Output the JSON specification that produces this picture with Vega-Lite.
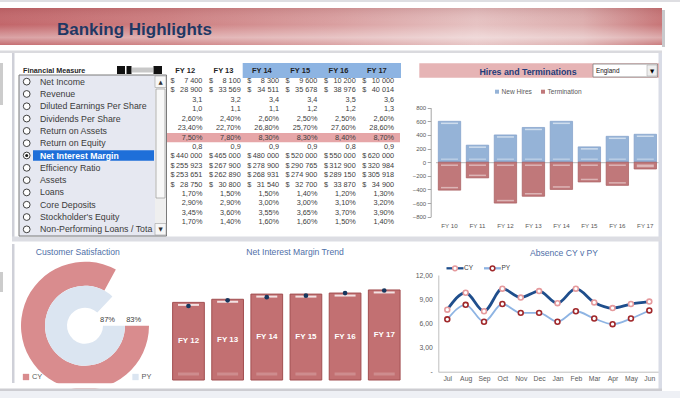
{
"$schema": "https://vega.github.io/schema/vega-lite/v6.json",
"width": 680, "height": 398,
"autosize": {"type": "none"},
"padding": 0,
"background": "#ffffff",
"config": {"view": {"stroke": null}, "font": "Liberation Sans", "axis": {"labelFont": "Liberation Sans"}},
"datasets": {
"measures": [
{"m":"Net Income","sel":false},{"m":"Revenue","sel":false},{"m":"Diluted Earnings Per Share","sel":false},{"m":"Dividends Per Share","sel":false},{"m":"Return on Assets","sel":false},{"m":"Return on Equity","sel":false},{"m":"Net Interest Margin","sel":true},{"m":"Efficiency Ratio","sel":false},{"m":"Assets","sel":false},{"m":"Loans","sel":false},{"m":"Core Deposits","sel":false},{"m":"Stockholder's Equity","sel":false},{"m":"Non-Performing Loans / Total Loans","sel":false}
],
"table": [
{"r":1,"cur":"$","FY 12":"7 400","FY 13":"8 100","FY 14":"8 300","FY 15":"9 600","FY 16":"10 200","FY 17":"10 000"},
{"r":2,"cur":"$","FY 12":"28 900","FY 13":"33 569","FY 14":"34 511","FY 15":"35 678","FY 16":"38 976","FY 17":"40 014"},
{"r":3,"cur":"","FY 12":"3,1","FY 13":"3,2","FY 14":"3,4","FY 15":"3,4","FY 16":"3,5","FY 17":"3,6"},
{"r":4,"cur":"","FY 12":"1,0","FY 13":"1,1","FY 14":"1,1","FY 15":"1,2","FY 16":"1,2","FY 17":"1,3"},
{"r":5,"cur":"","FY 12":"2,60%","FY 13":"2,40%","FY 14":"2,60%","FY 15":"2,50%","FY 16":"2,50%","FY 17":"2,60%"},
{"r":6,"cur":"","FY 12":"23,40%","FY 13":"22,70%","FY 14":"26,80%","FY 15":"25,70%","FY 16":"27,60%","FY 17":"28,60%"},
{"r":7,"cur":"","FY 12":"7,50%","FY 13":"7,80%","FY 14":"8,30%","FY 15":"8,30%","FY 16":"8,40%","FY 17":"8,70%"},
{"r":8,"cur":"","FY 12":"0,8","FY 13":"0,9","FY 14":"0,9","FY 15":"0,9","FY 16":"0,8","FY 17":"0,9"},
{"r":9,"cur":"$","FY 12":"440 000","FY 13":"465 000","FY 14":"480 000","FY 15":"520 000","FY 16":"550 000","FY 17":"620 000"},
{"r":10,"cur":"$","FY 12":"255 923","FY 13":"267 900","FY 14":"278 900","FY 15":"290 765","FY 16":"312 900","FY 17":"320 984"},
{"r":11,"cur":"$","FY 12":"253 651","FY 13":"262 890","FY 14":"268 931","FY 15":"274 900","FY 16":"289 150","FY 17":"305 918"},
{"r":12,"cur":"$","FY 12":"28 750","FY 13":"30 800","FY 14":"31 540","FY 15":"32 700","FY 16":"33 870","FY 17":"34 900"},
{"r":13,"cur":"","FY 12":"1,70%","FY 13":"1,50%","FY 14":"1,50%","FY 15":"1,40%","FY 16":"1,20%","FY 17":"1,30%"},
{"r":14,"cur":"","FY 12":"2,90%","FY 13":"2,90%","FY 14":"3,00%","FY 15":"3,00%","FY 16":"3,10%","FY 17":"3,20%"},
{"r":15,"cur":"","FY 12":"3,45%","FY 13":"3,60%","FY 14":"3,55%","FY 15":"3,65%","FY 16":"3,70%","FY 17":"3,90%"},
{"r":16,"cur":"","FY 12":"1,70%","FY 13":"1,40%","FY 14":"1,60%","FY 15":"1,60%","FY 16":"1,50%","FY 17":"1,40%"}
],
"years": [{"fy":"FY 12"},{"fy":"FY 13"},{"fy":"FY 14"},{"fy":"FY 15"},{"fy":"FY 16"},{"fy":"FY 17"}],
"hires": [
{"fy":"FY 10","t":"New Hires","v":600},{"fy":"FY 11","t":"New Hires","v":250},{"fy":"FY 12","t":"New Hires","v":400},{"fy":"FY 13","t":"New Hires","v":510},{"fy":"FY 14","t":"New Hires","v":600},{"fy":"FY 15","t":"New Hires","v":225},{"fy":"FY 16","t":"New Hires","v":380},{"fy":"FY 17","t":"New Hires","v":410},
{"fy":"FY 10","t":"Termination","v":-410},{"fy":"FY 11","t":"Termination","v":-230},{"fy":"FY 12","t":"Termination","v":-600},{"fy":"FY 13","t":"Termination","v":-500},{"fy":"FY 14","t":"Termination","v":-400},{"fy":"FY 15","t":"Termination","v":-290},{"fy":"FY 16","t":"Termination","v":-340},{"fy":"FY 17","t":"Termination","v":-100}
],
"nim": [{"fy":"FY 12","v":7.5,"mk":7.15},{"fy":"FY 13","v":7.8,"mk":7.7},{"fy":"FY 14","v":8.3,"mk":8.0},{"fy":"FY 15","v":8.3,"mk":8.15},{"fy":"FY 16","v":8.4,"mk":8.4},{"fy":"FY 17","v":8.7,"mk":8.65}],
"absence": [{"mo":"Jul","cy":7.7,"py":6.5},{"mo":"Aug","cy":9.8,"py":8.3},{"mo":"Sep","cy":7.5,"py":6.2},{"mo":"Oct","cy":10.3,"py":8.4},{"mo":"Nov","cy":9.2,"py":7.3},{"mo":"Dec","cy":10.0,"py":7.3},{"mo":"Jan","cy":8.5,"py":6.2},{"mo":"Feb","cy":10.3,"py":7.5},{"mo":"Mar","cy":8.6,"py":6.6},{"mo":"Apr","cy":7.9,"py":5.9},{"mo":"May","cy":8.4,"py":6.6},{"mo":"Jun","cy":8.7,"py":7.6}],
"sat": [{"ring":"CY","v":83,"label":"83%"},{"ring":"PY","v":87,"label":"87%"}]
},
"layer": [
{"data":{"values":[{}]},"mark":{"type":"rect","fill":"#dedee2"},"encoding":{"x":{"datum":0,"type":"quantitative","scale":{"domain":[0,1],"range":[0,680]},"axis":null},"x2":{"datum":1},"y":{"datum":0,"type":"quantitative","scale":{"domain":[0,1],"range":[0,2]},"axis":null},"y2":{"datum":1}}},
{"data":{"values":[{}]},"mark":{"type":"rect","fill":{"gradient":"linear","x1":0,"y1":0,"x2":1,"y2":0,"stops":[{"offset":0,"color":"#c2666a"},{"offset":0.25,"color":"#cd7e80"},{"offset":0.5,"color":"#d99e9f"},{"offset":0.72,"color":"#e6c2c2"},{"offset":0.88,"color":"#ddaeae"},{"offset":1,"color":"#c77577"}]}},"encoding":{"x":{"datum":0,"type":"quantitative","scale":{"domain":[0,1],"range":[0,662]},"axis":null},"x2":{"datum":1},"y":{"datum":0,"type":"quantitative","scale":{"domain":[0,1],"range":[8,45]},"axis":null},"y2":{"datum":1}}},
{"data":{"values":[{}]},"mark":{"type":"rect","fill":{"gradient":"linear","x1":0,"y1":0,"x2":0,"y2":1,"stops":[{"offset":0,"color":"rgba(120,40,45,0.15)"},{"offset":0.45,"color":"rgba(255,255,255,0)"},{"offset":0.8,"color":"rgba(255,255,255,0.4)"},{"offset":1,"color":"rgba(255,255,255,0.05)"}]}},"encoding":{"x":{"datum":0,"type":"quantitative","scale":{"domain":[0,1],"range":[0,662]},"axis":null},"x2":{"datum":1},"y":{"datum":0,"type":"quantitative","scale":{"domain":[0,1],"range":[8,45]},"axis":null},"y2":{"datum":1}}},
{"data":{"values":[{}]},"mark":{"type":"rect","fill":"#c9c9cc"},"encoding":{"x":{"datum":0,"type":"quantitative","scale":{"domain":[0,1],"range":[662,665]},"axis":null},"x2":{"datum":1},"y":{"datum":0,"type":"quantitative","scale":{"domain":[0,1],"range":[10,47]},"axis":null},"y2":{"datum":1}}},
{"data":{"values":[{"t":"Banking Highlights"}]},"mark":{"type":"text","align":"left","baseline":"middle","fontSize":17,"fontWeight":"bold","color":"#1f3864"},"encoding":{"x":{"datum":0,"type":"quantitative","scale":{"domain":[0,1],"range":[57,58]},"axis":null},"y":{"datum":0,"type":"quantitative","scale":{"domain":[0,1],"range":[30,31]},"axis":null},"text":{"field":"t"}}},
{"data":{"values":[{}]},"mark":{"type":"rect","fill":"#dadade"},"encoding":{"x":{"datum":0,"type":"quantitative","scale":{"domain":[0,1],"range":[0,662]},"axis":null},"x2":{"datum":1},"y":{"datum":0,"type":"quantitative","scale":{"domain":[0,1],"range":[50.5,53]},"axis":null},"y2":{"datum":1}}},
{"data":{"values":[{}]},"mark":{"type":"rect","fill":"#cfd0d8"},"encoding":{"x":{"datum":0,"type":"quantitative","scale":{"domain":[0,1],"range":[12,14.5]},"axis":null},"x2":{"datum":1},"y":{"datum":0,"type":"quantitative","scale":{"domain":[0,1],"range":[53,238]},"axis":null},"y2":{"datum":1}}},
{"data":{"values":[{}]},"mark":{"type":"rect","fill":"#d9dce6"},"encoding":{"x":{"datum":0,"type":"quantitative","scale":{"domain":[0,1],"range":[658.5,662]},"axis":null},"x2":{"datum":1},"y":{"datum":0,"type":"quantitative","scale":{"domain":[0,1],"range":[53,390]},"axis":null},"y2":{"datum":1}}},
{"data":{"values":[{}]},"mark":{"type":"rect","fill":"#dcdde3"},"encoding":{"x":{"datum":0,"type":"quantitative","scale":{"domain":[0,1],"range":[12,662]},"axis":null},"x2":{"datum":1},"y":{"datum":0,"type":"quantitative","scale":{"domain":[0,1],"range":[236.5,241.5]},"axis":null},"y2":{"datum":1}}},
{"data":{"values":[{}]},"mark":{"type":"rect","fill":"#cfd0d8"},"encoding":{"x":{"datum":0,"type":"quantitative","scale":{"domain":[0,1],"range":[12,14.5]},"axis":null},"x2":{"datum":1},"y":{"datum":0,"type":"quantitative","scale":{"domain":[0,1],"range":[244,383]},"axis":null},"y2":{"datum":1}}},
{"data":{"values":[{}]},"mark":{"type":"rect","fill":"#cccccc"},"encoding":{"x":{"datum":0,"type":"quantitative","scale":{"domain":[0,1],"range":[0,3]},"axis":null},"x2":{"datum":1},"y":{"datum":0,"type":"quantitative","scale":{"domain":[0,1],"range":[63,105]},"axis":null},"y2":{"datum":1}}},
{"data":{"values":[{}]},"mark":{"type":"rect","fill":"#cccccc"},"encoding":{"x":{"datum":0,"type":"quantitative","scale":{"domain":[0,1],"range":[0,3]},"axis":null},"x2":{"datum":1},"y":{"datum":0,"type":"quantitative","scale":{"domain":[0,1],"range":[272,292]},"axis":null},"y2":{"datum":1}}},
{"data":{"values":[{"t":"Financial Measure"}]},"mark":{"type":"text","align":"left","baseline":"middle","fontSize":7.2,"fontWeight":"bold","color":"#1f1f1f"},"encoding":{"x":{"datum":0,"type":"quantitative","scale":{"domain":[0,1],"range":[23,24]},"axis":null},"y":{"datum":0,"type":"quantitative","scale":{"domain":[0,1],"range":[70.7,71.7]},"axis":null},"text":{"field":"t"}}},
{"data":{"values":[{}]},"mark":{"type":"rect","fill":"#111111"},"encoding":{"x":{"datum":0,"type":"quantitative","scale":{"domain":[0,1],"range":[117,125]},"axis":null},"x2":{"datum":1},"y":{"datum":0,"type":"quantitative","scale":{"domain":[0,1],"range":[66,74]},"axis":null},"y2":{"datum":1}}},
{"data":{"values":[{}]},"mark":{"type":"rect","fill":"#111111"},"encoding":{"x":{"datum":0,"type":"quantitative","scale":{"domain":[0,1],"range":[126.5,131.5]},"axis":null},"x2":{"datum":1},"y":{"datum":0,"type":"quantitative","scale":{"domain":[0,1],"range":[66,74]},"axis":null},"y2":{"datum":1}}},
{"data":{"values":[{}]},"mark":{"type":"rect","fill":"#c8c8c8"},"encoding":{"x":{"datum":0,"type":"quantitative","scale":{"domain":[0,1],"range":[132,153]},"axis":null},"x2":{"datum":1},"y":{"datum":0,"type":"quantitative","scale":{"domain":[0,1],"range":[67.5,72.5]},"axis":null},"y2":{"datum":1}}},
{"data":{"values":[{}]},"mark":{"type":"rect","fill":"#111111"},"encoding":{"x":{"datum":0,"type":"quantitative","scale":{"domain":[0,1],"range":[153.5,162]},"axis":null},"x2":{"datum":1},"y":{"datum":0,"type":"quantitative","scale":{"domain":[0,1],"range":[66,74]},"axis":null},"y2":{"datum":1}}},
{"data":{"values":[{}]},"mark":{"type":"rect","fill":"#e6e8f1","stroke":"#7a7a7a","strokeWidth":1},"encoding":{"x":{"datum":0,"type":"quantitative","scale":{"domain":[0,1],"range":[19,166.5]},"axis":null},"x2":{"datum":1},"y":{"datum":0,"type":"quantitative","scale":{"domain":[0,1],"range":[75,236]},"axis":null},"y2":{"datum":1}}},
{"data":{"values":[{}]},"mark":{"type":"rect","fill":"#efefef"},"encoding":{"x":{"datum":0,"type":"quantitative","scale":{"domain":[0,1],"range":[155,166]},"axis":null},"x2":{"datum":1},"y":{"datum":0,"type":"quantitative","scale":{"domain":[0,1],"range":[76,235]},"axis":null},"y2":{"datum":1}}},
{"data":{"values":[{}]},"mark":{"type":"rect","fill":"#f7f7f7","stroke":"#a0a0a0","strokeWidth":0.6},"encoding":{"x":{"datum":0,"type":"quantitative","scale":{"domain":[0,1],"range":[155,166]},"axis":null},"x2":{"datum":1},"y":{"datum":0,"type":"quantitative","scale":{"domain":[0,1],"range":[76,87.5]},"axis":null},"y2":{"datum":1}}},
{"data":{"values":[{}]},"mark":{"type":"rect","fill":"#f7f7f7","stroke":"#a0a0a0","strokeWidth":0.6},"encoding":{"x":{"datum":0,"type":"quantitative","scale":{"domain":[0,1],"range":[155,166]},"axis":null},"x2":{"datum":1},"y":{"datum":0,"type":"quantitative","scale":{"domain":[0,1],"range":[223.5,235]},"axis":null},"y2":{"datum":1}}},
{"data":{"values":[{}]},"mark":{"type":"rect","fill":"#f8f8f8","stroke":"#9a9a9a","strokeWidth":0.7},"encoding":{"x":{"datum":0,"type":"quantitative","scale":{"domain":[0,1],"range":[156,165]},"axis":null},"x2":{"datum":1},"y":{"datum":0,"type":"quantitative","scale":{"domain":[0,1],"range":[89,198]},"axis":null},"y2":{"datum":1}}},
{"data":{"values":[{"t":"▲"}]},"mark":{"type":"text","align":"center","baseline":"middle","fontSize":5.5,"color":"#303030","font":"DejaVu Sans"},"encoding":{"x":{"datum":0,"type":"quantitative","scale":{"domain":[0,1],"range":[160.5,161.5]},"axis":null},"y":{"datum":0,"type":"quantitative","scale":{"domain":[0,1],"range":[81.8,82.8]},"axis":null},"text":{"field":"t"}}},
{"data":{"values":[{"t":"▼"}]},"mark":{"type":"text","align":"center","baseline":"middle","fontSize":5.5,"color":"#303030","font":"DejaVu Sans"},"encoding":{"x":{"datum":0,"type":"quantitative","scale":{"domain":[0,1],"range":[160.5,161.5]},"axis":null},"y":{"datum":0,"type":"quantitative","scale":{"domain":[0,1],"range":[229.3,230.3]},"axis":null},"text":{"field":"t"}}},
{"data":{"name":"measures"},
 "layer":[
  {"transform":[{"filter":"datum.sel"}],"mark":{"type":"rect","fill":"#1e6fd9"},"encoding":{"y":{"field":"m","type":"nominal","scale":{"type":"band","domain":["Net Income","Revenue","Diluted Earnings Per Share","Dividends Per Share","Return on Assets","Return on Equity","Net Interest Margin","Efficiency Ratio","Assets","Loans","Core Deposits","Stockholder's Equity","Non-Performing Loans / Total Loans"],"range":[75.5,235.5],"paddingInner":0.16,"paddingOuter":0.08},"axis":null},"x":{"datum":0,"type":"quantitative","scale":{"domain":[0,1],"range":[33,154]},"axis":null},"x2":{"datum":1}}},
  {"mark":{"type":"point","shape":"circle","size":46,"filled":true,"fill":"#ffffff","stroke":"#3f3f3f","strokeWidth":1,"opacity":1},"encoding":{"y":{"field":"m","type":"nominal","axis":null},"x":{"datum":0,"type":"quantitative","scale":{"domain":[0,1],"range":[26.7,27.7]},"axis":null}}},
  {"transform":[{"filter":"datum.sel"}],"mark":{"type":"point","shape":"circle","size":9,"filled":true,"fill":"#1a1a1a","opacity":1},"encoding":{"y":{"field":"m","type":"nominal","axis":null},"x":{"datum":0,"type":"quantitative","scale":{"domain":[0,1],"range":[26.7,27.7]},"axis":null}}},
  {"transform":[{"filter":"!datum.sel"}],"mark":{"type":"text","align":"left","baseline":"middle","fontSize":8.8,"color":"#3b3b3b","limit":114,"ellipsis":"\u200b"},"encoding":{"y":{"field":"m","type":"nominal","axis":null},"x":{"datum":0,"type":"quantitative","scale":{"domain":[0,1],"range":[40,41]},"axis":null},"text":{"field":"m"}}},
  {"transform":[{"filter":"datum.sel"}],"mark":{"type":"text","align":"left","baseline":"middle","fontSize":8.7,"fontWeight":"bold","color":"#ffffff"},"encoding":{"y":{"field":"m","type":"nominal","axis":null},"x":{"datum":0,"type":"quantitative","scale":{"domain":[0,1],"range":[40,41]},"axis":null},"text":{"field":"m"}}}
 ],
 "resolve":{"scale":{"x":"independent"}}
},
{"data":{"values":[{}]},"mark":{"type":"rect","fill":"#8db4e2"},"encoding":{"x":{"datum":0,"type":"quantitative","scale":{"domain":[0,1],"range":[242.7,401]},"axis":null},"x2":{"datum":1},"y":{"datum":0,"type":"quantitative","scale":{"domain":[0,1],"range":[63,78]},"axis":null},"y2":{"datum":1}}},
{"data":{"values":[{}]},"mark":{"type":"rect","fill":"#e6a6a8"},"encoding":{"x":{"datum":0,"type":"quantitative","scale":{"domain":[0,1],"range":[167,400]},"axis":null},"x2":{"datum":1},"y":{"datum":0,"type":"quantitative","scale":{"domain":[0,1],"range":[133,142.3]},"axis":null},"y2":{"datum":1}}},
{"data":{"name":"years"},"mark":{"type":"text","align":"center","baseline":"middle","fontSize":7.5,"fontWeight":"bold","color":"#1f1f1f"},"encoding":{"x":{"field":"fy","type":"nominal","scale":{"type":"band","domain":["FY 12","FY 13","FY 14","FY 15","FY 16","FY 17"],"range":[166,396],"paddingInner":0,"paddingOuter":0},"axis":null},"y":{"datum":0,"type":"quantitative","scale":{"domain":[0,1],"range":[71,72]},"axis":null},"text":{"field":"fy"}}},
{"data":{"name":"table"},"transform":[{"fold":["FY 12","FY 13","FY 14","FY 15","FY 16","FY 17"],"as":["fy","val"]}],
 "layer":[
  {"transform":[{"filter":"datum.cur == '$'"}],"mark":{"type":"text","align":"left","baseline":"middle","fontSize":7.3,"color":"#404040"},"encoding":{"x":{"field":"fy","type":"nominal","bandPosition":0.12,"scale":{"type":"band","domain":["FY 12","FY 13","FY 14","FY 15","FY 16","FY 17"],"range":[166,396],"paddingInner":0,"paddingOuter":0},"axis":null},"y":{"field":"r","type":"ordinal","scale":{"type":"band","domain":[1,2,3,4,5,6,7,8,9,10,11,12,13,14,15,16],"range":[76.3,227],"paddingInner":0,"paddingOuter":0},"axis":null},"text":{"field":"cur"}}},
  {"mark":{"type":"text","align":"right","baseline":"middle","fontSize":7.3,"color":"#404040"},"encoding":{"x":{"field":"fy","type":"nominal","bandPosition":0.95,"axis":null},"y":{"field":"r","type":"ordinal","axis":null},"text":{"field":"val"}}}
 ]
},
{"data":{"values":[{}]},"mark":{"type":"rect","fill":"#e6b4b5"},"encoding":{"x":{"datum":0,"type":"quantitative","scale":{"domain":[0,1],"range":[419.3,659]},"axis":null},"x2":{"datum":1},"y":{"datum":0,"type":"quantitative","scale":{"domain":[0,1],"range":[63.3,77.7]},"axis":null},"y2":{"datum":1}}},
{"data":{"values":[{"t":"Hires and Terminations"}]},"mark":{"type":"text","align":"center","baseline":"middle","fontSize":8.8,"fontWeight":"bold","color":"#1f3d7a"},"encoding":{"x":{"datum":0,"type":"quantitative","scale":{"domain":[0,1],"range":[528,529]},"axis":null},"y":{"datum":0,"type":"quantitative","scale":{"domain":[0,1],"range":[71.5,72.5]},"axis":null},"text":{"field":"t"}}},
{"data":{"values":[{}]},"mark":{"type":"rect","fill":"#ffffff","stroke":"#808080","strokeWidth":0.8},"encoding":{"x":{"datum":0,"type":"quantitative","scale":{"domain":[0,1],"range":[593,657.5]},"axis":null},"x2":{"datum":1},"y":{"datum":0,"type":"quantitative","scale":{"domain":[0,1],"range":[64,77]},"axis":null},"y2":{"datum":1}}},
{"data":{"values":[{}]},"mark":{"type":"rect","fill":"#eeeeee","stroke":"#b0b0b0","strokeWidth":0.6},"encoding":{"x":{"datum":0,"type":"quantitative","scale":{"domain":[0,1],"range":[647,657]},"axis":null},"x2":{"datum":1},"y":{"datum":0,"type":"quantitative","scale":{"domain":[0,1],"range":[65,76]},"axis":null},"y2":{"datum":1}}},
{"data":{"values":[{"t":"England"}]},"mark":{"type":"text","align":"left","baseline":"middle","fontSize":6.4,"color":"#111111"},"encoding":{"x":{"datum":0,"type":"quantitative","scale":{"domain":[0,1],"range":[596,597]},"axis":null},"y":{"datum":0,"type":"quantitative","scale":{"domain":[0,1],"range":[70.5,71.5]},"axis":null},"text":{"field":"t"}}},
{"data":{"values":[{"t":"▼"}]},"mark":{"type":"text","align":"center","baseline":"middle","fontSize":5.5,"color":"#000000","font":"DejaVu Sans"},"encoding":{"x":{"datum":0,"type":"quantitative","scale":{"domain":[0,1],"range":[652,653]},"axis":null},"y":{"datum":0,"type":"quantitative","scale":{"domain":[0,1],"range":[70.8,71.8]},"axis":null},"text":{"field":"t"}}},
{"data":{"values":[{"k":"New Hires"},{"k":"Termination"}]},
 "layer":[
  {"mark":{"type":"point","shape":"square","filled":true,"size":16,"opacity":1},"encoding":{"x":{"field":"k","type":"nominal","scale":{"type":"point","domain":["New Hires","Termination"],"range":[497,543],"padding":0},"axis":null},"y":{"datum":0,"type":"quantitative","scale":{"domain":[0,1],"range":[91.7,92.7]},"axis":null},"color":{"field":"k","type":"nominal","scale":{"domain":["New Hires","Termination"],"range":["#95b3d7","#c0787a"]},"legend":null}}},
  {"mark":{"type":"text","align":"left","baseline":"middle","fontSize":6.6,"color":"#595959","dx":4.5},"encoding":{"x":{"field":"k","type":"nominal","axis":null},"y":{"datum":0,"type":"quantitative","axis":null},"text":{"field":"k"}}}
 ]
},
{"data":{"name":"hires"},
 "layer":[
  {"transform":[{"filter":"datum.t == 'New Hires'"}],"mark":{"type":"bar","fill":"#95b3d7","stroke":"#7f9ec8","strokeWidth":0.7},"encoding":{"x":{"field":"fy","type":"nominal","scale":{"type":"band","domain":["FY 10","FY 11","FY 12","FY 13","FY 14","FY 15","FY 16","FY 17"],"range":[435.5,659.3],"paddingInner":0.2,"paddingOuter":0.1},"axis":{"orient":"bottom","offset":-235.8,"domain":true,"domainColor":"#a6a6a6","domainWidth":0.8,"ticks":false,"labelPadding":60.5,"labelFontSize":6.2,"labelColor":"#595959","labelAngle":0,"title":null,"grid":false}},"y":{"field":"v","type":"quantitative","scale":{"domain":[-800,800],"range":[216.7,107.7],"nice":false},"axis":{"orient":"left","offset":-430.7,"values":[-800,-600,-400,-200,0,200,400,600,800],"tickSize":3.5,"tickColor":"#a6a6a6","domainColor":"#a6a6a6","labelFontSize":6,"labelColor":"#595959","labelPadding":1.5,"title":null,"grid":false}}}},
  {"transform":[{"filter":"datum.t == 'Termination'"}],"mark":{"type":"bar","fill":"#c0787a","stroke":"#a65a5c","strokeWidth":0.7},"encoding":{"x":{"field":"fy","type":"nominal"},"y":{"field":"v","type":"quantitative"}}},
  {"transform":[{"filter":"datum.t == 'New Hires'"}],"mark":{"type":"tick","orient":"horizontal","color":"#ffffff","opacity":0.55,"size":17,"thickness":1.5,"yOffset":2},"encoding":{"x":{"field":"fy","type":"nominal"},"y":{"field":"v","type":"quantitative"}}},
  {"transform":[{"filter":"datum.t == 'Termination'"}],"mark":{"type":"tick","orient":"horizontal","color":"#ffffff","opacity":0.45,"size":17,"thickness":1.5,"yOffset":-2.5},"encoding":{"x":{"field":"fy","type":"nominal"},"y":{"field":"v","type":"quantitative"}}},
  {"transform":[{"filter":"datum.t == 'New Hires'"}],"mark":{"type":"tick","orient":"horizontal","color":"#ffffff","opacity":0.35,"size":17,"thickness":1.5,"yOffset":-3},"encoding":{"x":{"field":"fy","type":"nominal"},"y":{"datum":0,"type":"quantitative"}}},
  {"transform":[{"filter":"datum.t == 'Termination'"}],"mark":{"type":"tick","orient":"horizontal","color":"#ffffff","opacity":0.45,"size":17,"thickness":1.5,"yOffset":3},"encoding":{"x":{"field":"fy","type":"nominal"},"y":{"datum":0,"type":"quantitative"}}}
 ]
},
{"data":{"values":[{"t":"Customer Satisfaction"}]},"mark":{"type":"text","align":"center","baseline":"middle","fontSize":8.6,"color":"#4f6fa8"},"encoding":{"x":{"datum":0,"type":"quantitative","scale":{"domain":[0,1],"range":[77.8,78.8]},"axis":null},"y":{"datum":0,"type":"quantitative","scale":{"domain":[0,1],"range":[252.3,253.3]},"axis":null},"text":{"field":"t"}}},
{"data":{"values":[{"t":"Net Interest Margin Trend"}]},"mark":{"type":"text","align":"center","baseline":"middle","fontSize":8.6,"color":"#4f6fa8"},"encoding":{"x":{"datum":0,"type":"quantitative","scale":{"domain":[0,1],"range":[295,296]},"axis":null},"y":{"datum":0,"type":"quantitative","scale":{"domain":[0,1],"range":[252.3,253.3]},"axis":null},"text":{"field":"t"}}},
{"data":{"values":[{"t":"Absence CY v PY"}]},"mark":{"type":"text","align":"center","baseline":"middle","fontSize":8.6,"color":"#4f6fa8"},"encoding":{"x":{"datum":0,"type":"quantitative","scale":{"domain":[0,1],"range":[564,565]},"axis":null},"y":{"datum":0,"type":"quantitative","scale":{"domain":[0,1],"range":[252.7,253.7]},"axis":null},"text":{"field":"t"}}},
{"data":{"name":"sat"},"transform":[{"filter":"datum.ring == 'CY'"}],"mark":{"type":"arc","radius":64,"radius2":40,"fill":"#d98c8e"},"encoding":{"theta":{"field":"v","type":"quantitative","scale":{"domain":[0,100],"range":[1.5708,7.854]}},"x":{"datum":0,"type":"quantitative","scale":{"domain":[0,1],"range":[85,86]},"axis":null},"y":{"datum":0,"type":"quantitative","scale":{"domain":[0,1],"range":[325.7,326.7]},"axis":null}}},
{"data":{"name":"sat"},"transform":[{"filter":"datum.ring == 'PY'"}],"mark":{"type":"arc","radius":40,"radius2":18,"fill":"#dbe5f1"},"encoding":{"theta":{"field":"v","type":"quantitative","scale":{"domain":[0,100],"range":[1.5708,7.854]}},"x":{"datum":0,"type":"quantitative","scale":{"domain":[0,1],"range":[85,86]},"axis":null},"y":{"datum":0,"type":"quantitative","scale":{"domain":[0,1],"range":[325.7,326.7]},"axis":null}}},
{"data":{"name":"sat"},"mark":{"type":"text","align":"center","baseline":"middle","fontSize":7.5,"color":"#404040"},"encoding":{"x":{"field":"ring","type":"nominal","scale":{"type":"point","domain":["PY","CY"],"range":[107.5,133.7],"padding":0},"axis":null},"y":{"datum":0,"type":"quantitative","scale":{"domain":[0,1],"range":[320,321]},"axis":null},"text":{"field":"label"}}},
{"data":{"values":[{"k":"CY"},{"k":"PY"}]},
 "layer":[
  {"mark":{"type":"point","shape":"square","filled":true,"size":40,"opacity":1},"encoding":{"x":{"field":"k","type":"nominal","scale":{"type":"point","domain":["CY","PY"],"range":[26,135.5],"padding":0},"axis":null},"y":{"datum":0,"type":"quantitative","scale":{"domain":[0,1],"range":[377,378]},"axis":null},"color":{"field":"k","type":"nominal","scale":{"domain":["CY","PY"],"range":["#d98c8e","#dbe5f1"]},"legend":null}}},
  {"mark":{"type":"text","align":"left","baseline":"middle","fontSize":7.4,"color":"#595959","dx":6},"encoding":{"x":{"field":"k","type":"nominal","axis":null},"y":{"datum":0,"type":"quantitative","axis":null},"text":{"field":"k"}}}
 ]
},
{"data":{"name":"nim"},
 "layer":[
  {"mark":{"type":"bar","fill":"#c27072","stroke":"#a24f51","strokeWidth":1},"encoding":{"x":{"field":"fy","type":"nominal","scale":{"type":"band","domain":["FY 12","FY 13","FY 14","FY 15","FY 16","FY 17"],"range":[168.9,403.8],"paddingInner":0.19,"paddingOuter":0.095},"axis":null},"y":{"field":"v","type":"quantitative","scale":{"domain":[0,10],"range":[380,276.5],"nice":false},"axis":null}}},
  {"mark":{"type":"tick","orient":"horizontal","color":"#ffffff","opacity":0.8,"size":21,"thickness":2,"yOffset":2.5},"encoding":{"x":{"field":"fy","type":"nominal"},"y":{"field":"v","type":"quantitative"}}},
  {"mark":{"type":"tick","orient":"horizontal","color":"#ffffff","opacity":0.2,"size":21,"thickness":3,"yOffset":-6},"encoding":{"x":{"field":"fy","type":"nominal"},"y":{"datum":0,"type":"quantitative"}}},
  {"mark":{"type":"point","shape":"circle","filled":true,"size":22,"color":"#17375e","opacity":1},"encoding":{"x":{"field":"fy","type":"nominal"},"y":{"field":"mk","type":"quantitative"}}}
 ]
},
{"data":{"name":"nim"},"mark":{"type":"text","align":"center","baseline":"middle","fontSize":8,"fontWeight":"bold","color":"#ffffff"},"encoding":{"x":{"field":"fy","type":"nominal","scale":{"type":"band","domain":["FY 12","FY 13","FY 14","FY 15","FY 16","FY 17"],"range":[168.9,403.8],"paddingInner":0.19,"paddingOuter":0.095},"axis":null},"y":{"field":"v","type":"quantitative","scale":{"domain":[0,20],"range":[380,276.5],"nice":false},"axis":null},"text":{"field":"fy"}}},
{"data":{"values":[{"k":"CY"},{"k":"PY"}]},
 "layer":[
  {"mark":{"type":"tick","orient":"horizontal","size":17,"thickness":2.3,"opacity":1},"encoding":{"x":{"field":"k","type":"nominal","scale":{"type":"point","domain":["CY","PY"],"range":[455,492.5],"padding":0},"axis":null},"y":{"datum":0,"type":"quantitative","scale":{"domain":[0,1],"range":[268.3,269.3]},"axis":null},"color":{"field":"k","type":"nominal","scale":{"domain":["CY","PY"],"range":["#1f4e8c","#8eb4e3"]},"legend":null}}},
  {"mark":{"type":"point","shape":"circle","filled":true,"fill":"#ffffff","size":22,"strokeWidth":1.5,"opacity":1},"encoding":{"x":{"field":"k","type":"nominal","axis":null},"y":{"datum":0,"type":"quantitative","axis":null},"stroke":{"field":"k","type":"nominal","scale":{"domain":["CY","PY"],"range":["#e59a9d","#a0282b"]},"legend":null}}},
  {"mark":{"type":"text","align":"left","baseline":"middle","fontSize":6.5,"color":"#404040","dx":9},"encoding":{"x":{"field":"k","type":"nominal","axis":null},"y":{"datum":0,"type":"quantitative","axis":null},"text":{"field":"k"}}}
 ]
},
{"data":{"name":"absence"},
 "layer":[
  {"mark":{"type":"line","interpolate":"monotone","stroke":"#8eb4e3","strokeWidth":1.8},"encoding":{"x":{"field":"mo","type":"nominal","scale":{"type":"point","domain":["Jul","Aug","Sep","Oct","Nov","Dec","Jan","Feb","Mar","Apr","May","Jun"],"range":[438.1,658.5],"padding":0.5},"axis":{"orient":"bottom","offset":-26.3,"domainColor":"#bfbfbf","ticks":false,"labelPadding":4,"labelColor":"#595959","labelFontSize":6.8,"labelAngle":0,"title":null,"grid":false}},"y":{"field":"py","type":"quantitative","scale":{"domain":[0,12],"range":[371.7,275],"nice":false},"axis":{"orient":"left","offset":-438.3,"values":[0,3,6,9,12],"labelExpr":"datum.value == 0 ? '-' : replace(format(datum.value, '.2f'), '.', ',')","ticks":false,"labelPadding":6,"domainColor":"#bfbfbf","labelColor":"#595959","labelFontSize":6.8,"title":null,"grid":false}}}},
  {"mark":{"type":"line","interpolate":"monotone","stroke":"#1f4e8c","strokeWidth":2.8},"encoding":{"x":{"field":"mo","type":"nominal"},"y":{"field":"cy","type":"quantitative"}}},
  {"mark":{"type":"point","shape":"circle","filled":true,"fill":"#ffffff","stroke":"#a0282b","strokeWidth":1.6,"size":24,"opacity":1},"encoding":{"x":{"field":"mo","type":"nominal"},"y":{"field":"py","type":"quantitative"}}},
  {"mark":{"type":"point","shape":"circle","filled":true,"fill":"#ffffff","stroke":"#e59a9d","strokeWidth":1.6,"size":24,"opacity":1},"encoding":{"x":{"field":"mo","type":"nominal"},"y":{"field":"cy","type":"quantitative"}}}
 ]
},
{"data":{"values":[{}]},"mark":{"type":"rect","fill":"#ffffff"},"encoding":{"x":{"datum":0,"type":"quantitative","scale":{"domain":[0,1],"range":[14.5,165]},"axis":null},"x2":{"datum":1},"y":{"datum":0,"type":"quantitative","scale":{"domain":[0,1],"range":[383.3,388.5]},"axis":null},"y2":{"datum":1}}},
{"data":{"values":[{}]},"mark":{"type":"rect","fill":"#cdcdd2"},"encoding":{"x":{"datum":0,"type":"quantitative","scale":{"domain":[0,1],"range":[0,662]},"axis":null},"x2":{"datum":1},"y":{"datum":0,"type":"quantitative","scale":{"domain":[0,1],"range":[388.5,391]},"axis":null},"y2":{"datum":1}}},
{"data":{"values":[{}]},"mark":{"type":"rect","fill":"#eef0f5"},"encoding":{"x":{"datum":0,"type":"quantitative","scale":{"domain":[0,1],"range":[0,680]},"axis":null},"x2":{"datum":1},"y":{"datum":0,"type":"quantitative","scale":{"domain":[0,1],"range":[391,398]},"axis":null},"y2":{"datum":1}}}
],
"resolve": {"scale": {"x":"independent","y":"independent","color":"independent","stroke":"independent","theta":"independent","opacity":"independent","size":"independent","shape":"independent"}, "axis": {"x":"independent","y":"independent"}}
}
